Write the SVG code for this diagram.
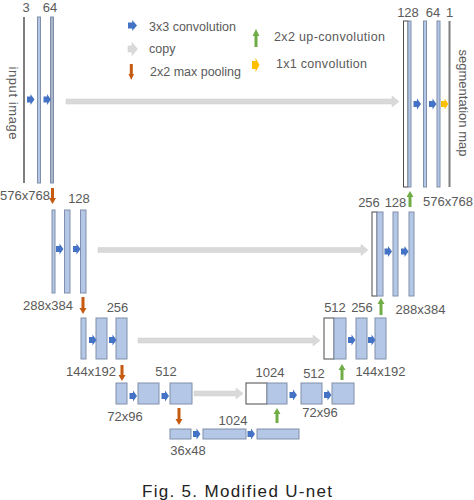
<svg xmlns="http://www.w3.org/2000/svg" width="474" height="500" viewBox="0 0 474 500">
<style>
.fm{fill:#b4c7e7;stroke:#8090aa;stroke-width:1}
.wh{fill:#ffffff;stroke:#4a4a4a;stroke-width:1}
.ln{fill:#7f7f7f}
.lb{font-family:"Liberation Sans",Arial,sans-serif;font-size:13px;fill:#5a5a5a;text-anchor:middle}
.lg{font-family:"Liberation Sans",Arial,sans-serif;font-size:12.5px;fill:#5a5a5a}
.cap{font-family:"Liberation Sans",Arial,sans-serif;font-size:17px;fill:#222}
.cv{fill:#4472c4}
.c1{fill:#ffc000}
.cp{fill:#d9d9d9;stroke:#cfcfcf;stroke-width:0.5}
.pl{fill:#c55a11}
.up{fill:#70ad47}
</style>
<defs>
<path id="cvp" d="M0,-3 H3.5 V-5.5 L7.5,0 L3.5,5.5 V3 H0 Z"/>
</defs>
<rect width="474" height="500" fill="#ffffff"/>

<g id="legend">
<use href="#cvp" class="cv" transform="translate(128,25.5) scale(1.2,1)"/>
<text class="lg" x="149" y="31">3x3 convolution</text>
<path class="cp" d="M128,46 H132 V42.5 L137.5,49 L132,55.5 V52 H128 Z"/>
<text class="lg" x="149" y="53">copy</text>
<path class="pl" d="M129.8,64 V74 H128.5 L131.3,80 L134,74 H132.8 V64 Z"/>
<text class="lg" x="150" y="76">2x2 max pooling</text>
<path class="up" d="M254.5,47 V36 H252.5 L256,29 L259.5,36 H257.5 V47 Z"/>
<text class="lg" x="274" y="41" textLength="111" lengthAdjust="spacing">2x2 up-convolution</text>
<use href="#cvp" class="c1" transform="translate(252,65) scale(1,1.3)"/>
<text class="lg" x="276" y="68" textLength="91" lengthAdjust="spacing">1x1 convolution</text>
</g>

<g id="input-image">
<text class="lb" transform="translate(9,103) rotate(90)" textLength="73" lengthAdjust="spacing">input image</text>
</g>
<g id="segmentation-map">
<text class="lb" transform="translate(459,103) rotate(90)" textLength="107" lengthAdjust="spacing">segmentation map</text>
</g>

<g id="enc1">
<rect class="ln" x="23" y="17" width="2" height="166"/>
<rect class="fm" x="37.5" y="17" width="3" height="166"/>
<rect class="fm" x="50.5" y="17" width="3" height="166" style="fill:#a9b4c8"/>
<text class="lb" x="26" y="12">3</text>
<text class="lb" x="50" y="12">64</text>
<text class="lb" x="25" y="200">576x768</text>
</g>
<g id="dec1">
<rect class="wh" x="403.5" y="21" width="4.5" height="166"/>
<rect class="fm" x="408" y="21" width="3" height="166"/>
<rect class="fm" x="423.5" y="21" width="3" height="166"/>
<rect class="fm" x="437" y="21" width="3" height="166"/>
<rect class="ln" x="448.5" y="21" width="2" height="166"/>
<text class="lb" x="408" y="17">128</text>
<text class="lb" x="433" y="17">64</text>
<text class="lb" x="449.5" y="17">1</text>
<text class="lb" x="448" y="206">576x768</text>
</g>

<g id="enc2">
<rect class="fm" x="52" y="210" width="3" height="83"/>
<rect class="fm" x="64.5" y="210" width="5.5" height="83"/>
<rect class="fm" x="80.5" y="210" width="5.5" height="83"/>
<text class="lb" x="79" y="203">128</text>
<text class="lb" x="48" y="310">288x384</text>
</g>
<g id="dec2">
<rect class="wh" x="372" y="212" width="5" height="84"/>
<rect class="fm" x="377" y="212" width="6" height="84"/>
<rect class="fm" x="393" y="212" width="5" height="84"/>
<rect class="fm" x="409" y="212" width="5" height="84"/>
<text class="lb" x="369" y="207">256</text>
<text class="lb" x="395.5" y="207">128</text>
<text class="lb" x="420.5" y="314">288x384</text>
</g>

<g id="enc3">
<rect class="fm" x="81" y="318" width="5" height="41"/>
<rect class="fm" x="96" y="318" width="11" height="41"/>
<rect class="fm" x="116" y="318" width="11" height="41"/>
<text class="lb" x="117.5" y="312">256</text>
<text class="lb" x="91" y="376">144x192</text>
</g>
<g id="dec3">
<rect class="wh" x="324" y="318" width="10" height="41"/>
<rect class="fm" x="334" y="318" width="12" height="41"/>
<rect class="fm" x="356" y="318" width="11" height="41"/>
<rect class="fm" x="375" y="318" width="11" height="41"/>
<text class="lb" x="335" y="312">512</text>
<text class="lb" x="362" y="312">256</text>
<text class="lb" x="380.5" y="376">144x192</text>
</g>

<g id="enc4">
<rect class="fm" x="116" y="383" width="11" height="21"/>
<rect class="fm" x="138" y="383" width="21" height="21"/>
<rect class="fm" x="170" y="383" width="22" height="21"/>
<text class="lb" x="166" y="376">512</text>
<text class="lb" x="125" y="421">72x96</text>
</g>
<g id="dec4">
<rect class="wh" x="246" y="383" width="21" height="21"/>
<rect class="fm" x="267" y="383" width="20" height="21"/>
<rect class="fm" x="301" y="383" width="21" height="21"/>
<rect class="fm" x="332" y="383" width="22" height="21"/>
<text class="lb" x="270" y="377">1024</text>
<text class="lb" x="314" y="378">512</text>
<text class="lb" x="320" y="417">72x96</text>
</g>

<g id="bottleneck">
<rect class="fm" x="170" y="429" width="21" height="10"/>
<rect class="fm" x="203" y="429" width="43" height="10"/>
<rect class="fm" x="257" y="429" width="42" height="10"/>
<text class="lb" x="233" y="425">1024</text>
<text class="lb" x="188" y="455">36x48</text>
</g>

<g id="connectors">
<path class="cp" d="M66,99 H392 V96 L399,101.5 L392,107 V104 H66 Z"/>
<path class="cp" d="M98,247.5 H361 V244.5 L368,250 L361,255.5 V252.5 H98 Z"/>
<path class="cp" d="M138,338 H313 V335 L320,340.5 L313,346 V343 H138 Z"/>
<path class="cp" d="M194,391 H236 V388 L243,393.5 L236,399 V396 H194 Z"/>
<path class="pl" d="M51,188 V198 H49 L52.5,204 L56,198 H54 V188 Z"/>
<path class="pl" d="M81.5,297 V308 H79.5 L83,314 L86.5,308 H84.5 V297 Z"/>
<path class="pl" d="M120.5,365 V375 H118.5 L122,381 L125.5,375 H123.5 V365 Z"/>
<path class="pl" d="M177.5,408 V419 H175.5 L179,425 L182.5,419 H180.5 V408 Z"/>
<path class="up" d="M408.5,207 V197 H406.5 L410,191 L413.5,197 H411.5 V207 Z"/>
<path class="up" d="M379.5,315 V304 H377.5 L381,298 L384.5,304 H382.5 V315 Z"/>
<path class="up" d="M340.5,380 V370 H338.5 L342,364 L345.5,370 H343.5 V380 Z"/>
<path class="up" d="M275.5,423 V414 H273.5 L277,408 L280.5,414 H278.5 V423 Z"/>
<use href="#cvp" class="cv" x="27" y="99.5"/>
<use href="#cvp" class="cv" x="43.5" y="99.5"/>
<use href="#cvp" class="cv" x="413.5" y="104"/>
<use href="#cvp" class="cv" x="429" y="104"/>
<use href="#cvp" class="c1" x="441" y="104"/>
<use href="#cvp" class="cv" x="56" y="249"/>
<use href="#cvp" class="cv" x="73" y="249"/>
<use href="#cvp" class="cv" x="384.5" y="251.5"/>
<use href="#cvp" class="cv" x="401" y="251.5"/>
<use href="#cvp" class="cv" x="89" y="340"/>
<use href="#cvp" class="cv" x="109" y="340"/>
<use href="#cvp" class="cv" x="348" y="340"/>
<use href="#cvp" class="cv" x="368" y="340"/>
<use href="#cvp" class="cv" x="129.5" y="396"/>
<use href="#cvp" class="cv" x="161.5" y="396"/>
<use href="#cvp" class="cv" x="289.5" y="395"/>
<use href="#cvp" class="cv" x="324" y="395"/>
<use href="#cvp" class="cv" x="193" y="434"/>
<use href="#cvp" class="cv" x="247.5" y="434"/>
</g>

<text class="cap" x="142" y="497" textLength="190" lengthAdjust="spacing">Fig. 5. Modified U-net</text>
</svg>
